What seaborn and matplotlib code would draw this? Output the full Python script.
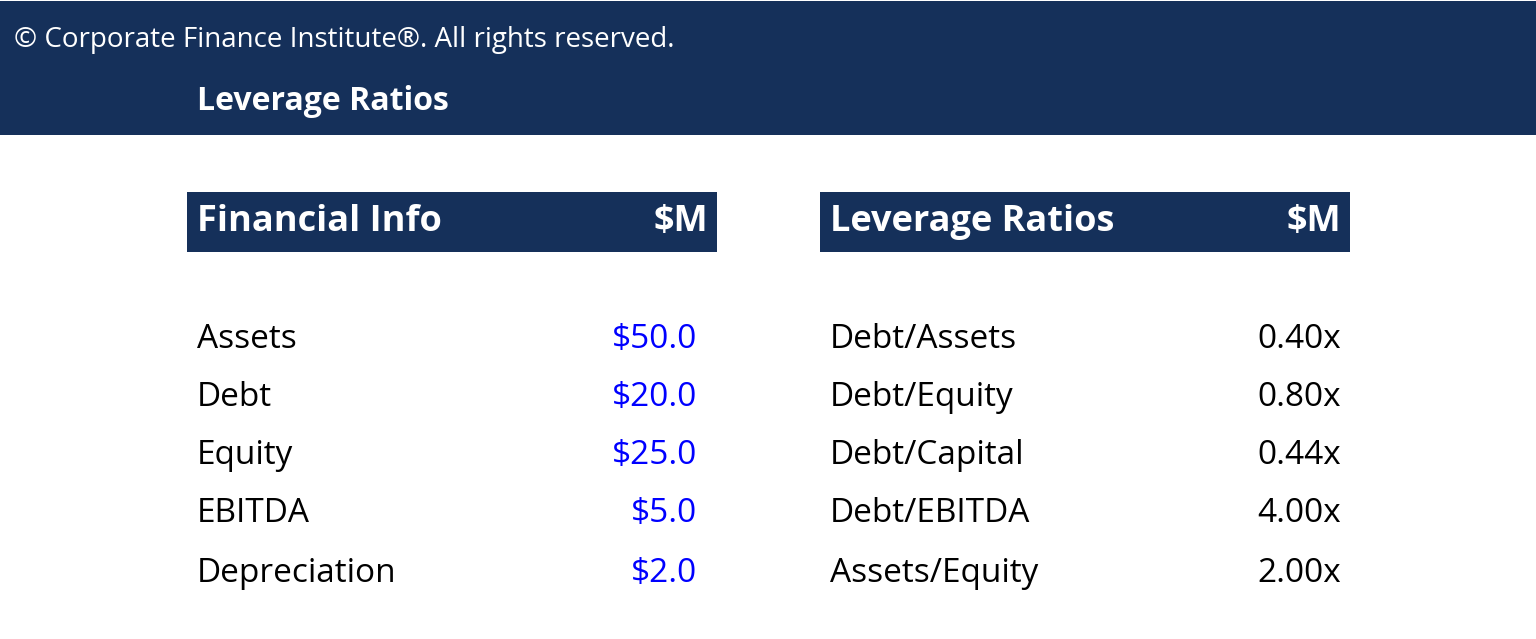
import matplotlib
matplotlib.use("Agg")
import matplotlib.pyplot as plt
import seaborn as sns
from matplotlib.patches import Rectangle

sns.set_style("white")
plt.rcParams['font.family'] = ['Open Sans', 'DejaVu Sans']

copyright_text = "© Corporate Finance Institute®. All rights reserved."
title = "Leverage Ratios"
left_header = ["Financial Info", "$M"]
right_header = ["Leverage Ratios", "$M"]
info_labels = ["Assets", "Debt", "Equity", "EBITDA", "Depreciation"]
info_values = ["$50.0", "$20.0", "$25.0", "$5.0", "$2.0"]
ratio_labels = ["Debt/Assets", "Debt/Equity", "Debt/Capital", "Debt/EBITDA", "Assets/Equity"]
ratio_values = ["0.40x", "0.80x", "0.44x", "4.00x", "2.00x"]

NAVY = "#15305a"
W, H = 1536, 639
fig = plt.figure(figsize=(W/100, H/100), dpi=100)
ax = fig.add_axes([0, 0, 1, 1])
ax.set_xlim(0, W); ax.set_ylim(H, 0); ax.axis("off")

ax.add_patch(Rectangle((0, 1), W, 134, color=NAVY, lw=0))
ax.text(14, 40, copyright_text, color="white", fontsize=20, va="center")
ax.text(197, 101, title, color="white", fontsize=23, fontweight="bold", va="center")

row_y = [339, 398, 456, 514, 573]
for x0, x1, hdr, labels, values, vcol in [
    (187, 717, left_header, info_labels, info_values, "#0000ff"),
    (820, 1350, right_header, ratio_labels, ratio_values, "black")]:
    ax.add_patch(Rectangle((x0, 192), x1 - x0, 60, color=NAVY, lw=0))
    ax.text(x0 + 10, 222, hdr[0], color="white", fontsize=26, fontweight="bold", va="center")
    ax.text(x1 - 9, 222, hdr[1], color="white", fontsize=26, fontweight="bold", va="center", ha="right")
    for y, lab, val in zip(row_y, labels, values):
        ax.text(x0 + 10, y, lab, color="black", fontsize=24, va="center")
        ax.text(x1 - 20 if vcol != "black" else x1 - 9, y, val, color=vcol, fontsize=24, va="center", ha="right")

fig.savefig("out.png", dpi=100)
